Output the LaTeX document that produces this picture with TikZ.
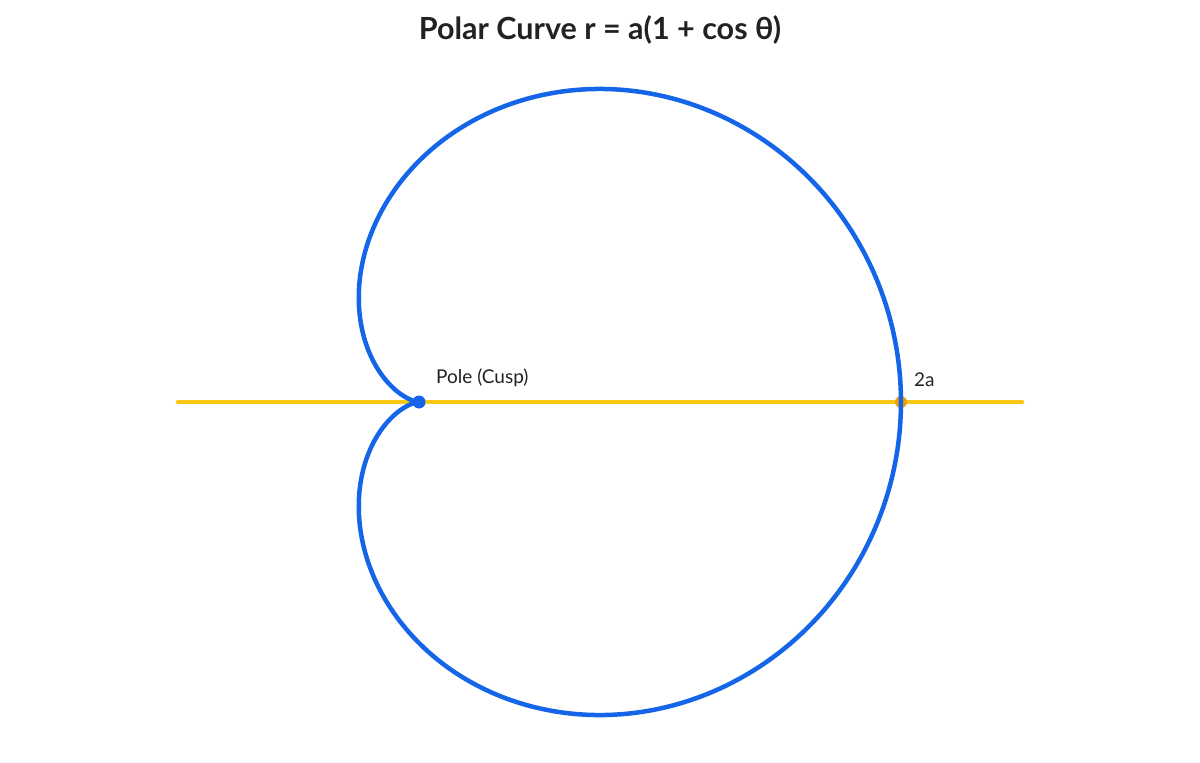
\documentclass[tikz,border=0pt]{standalone}
\usepackage{fontspec}
\setmainfont{Lato}
\definecolor{curveblue}{HTML}{1565E8}
\definecolor{axisyellow}{HTML}{F7C815}
\definecolor{dotorange}{HTML}{F59E0B}
\definecolor{txt}{HTML}{222222}
\tikzset{
  curve/.style={draw=curveblue, line width=4.5pt, line join=round},
  axisline/.style={draw=axisyellow, line width=4.5pt, line cap=round},
  lbl/.style={font=\fontsize{19}{21}\selectfont, text=txt, inner sep=0pt, anchor=base west},
}
\begin{document}
\begin{tikzpicture}[x=1pt,y=-1pt]
\useasboundingbox (0,0) rectangle (1200,763);
\coordinate (pole) at (419,402);
\coordinate (twoa) at (901,402);
\coordinate (axL) at (178,402);
\coordinate (axR) at (1022,402);
\node[font=\fontsize{30.5}{34}\selectfont\bfseries, text=txt] (title) at (600,30) {Polar Curve r = a(1 + cos θ)};
\draw[axisline] (axL) -- (axR);
\fill[dotorange] (twoa) circle (6);
\draw[curve, shift={(pole)}] plot[domain=0:360, samples=240, smooth] ({241*(1+cos(\x))*cos(\x)}, {-241*(1+cos(\x))*sin(\x)});
\fill[curveblue] (pole) circle (6.5);
\node[lbl] (polelbl) at (436,383) {Pole (Cusp)};
\node[lbl] (twoalbl) at (914,386) {2a};
\end{tikzpicture}
\end{document}
